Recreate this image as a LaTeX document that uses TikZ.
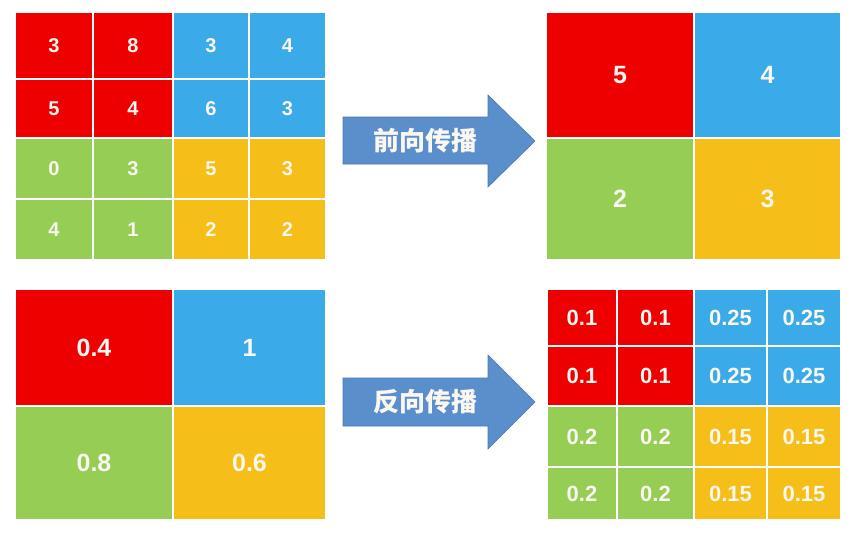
\documentclass[tikz,border=0pt]{standalone}
\usepackage{fontspec}
\setmainfont{Liberation Sans}
\newfontfamily\cjk{Noto Sans CJK SC}
\definecolor{cred}{HTML}{EE0000}
\definecolor{cblue}{HTML}{3AAAE8}
\definecolor{cgreen}{HTML}{96CD55}
\definecolor{cyellow}{HTML}{F5BE18}
\definecolor{carrow}{HTML}{5B8FCC}
\definecolor{carrowline}{HTML}{4A78B0}
\definecolor{ctext}{HTML}{FAF6F0}
% name, x1, y1, x2, y2, colour, text, size
\newcommand\mkcell[8]{\node[cell,fill=#6,font=\bfseries\fontsize{#8}{#8}\selectfont,
  minimum width={(#4-#2)*1pt},minimum height={(#5-#3)*1pt}] (#1) at ({(#2+#4)/2},{(#3+#5)/2}) {#7};}
% name, left x, tip x, head x, body top, body bottom, head top, head bottom, text
\newcommand\mkarrow[9]{%
  \draw[bigarrow] (#2,#5) -- (#4,#5) -- (#4,#7) -- (#3,{(#7+#8)/2}) -- (#4,#8) -- (#4,#6) -- (#2,#6) -- cycle;
  \node[arrowtext] (#1) at ({(#2+#4)/2+10},{(#5+#6)/2}) {#9};}
\begin{document}
\begin{tikzpicture}[x=1pt,y=-1pt,
  cell/.style={draw=white,line width=1.3pt,inner sep=0pt,text=ctext},
  bigarrow/.style={fill=carrow,draw=carrowline,line width=0.6pt,line join=miter},
  arrowtext/.style={inner sep=0pt,text=ctext,font=\cjk\bfseries\fontsize{26}{26}\selectfont}]
\useasboundingbox (0,0) rectangle (851,535);
% top-left 4x4
\mkcell{a11}{15}{12}{93}{79}{cred}{3}{20}
\mkcell{a12}{93}{12}{173}{79}{cred}{8}{20}
\mkcell{a13}{173}{12}{249}{79}{cblue}{3}{20}
\mkcell{a14}{249}{12}{326}{79}{cblue}{4}{20}
\mkcell{a21}{15}{79}{93}{138}{cred}{5}{20}
\mkcell{a22}{93}{79}{173}{138}{cred}{4}{20}
\mkcell{a23}{173}{79}{249}{138}{cblue}{6}{20}
\mkcell{a24}{249}{79}{326}{138}{cblue}{3}{20}
\mkcell{a31}{15}{138}{93}{199}{cgreen}{0}{20}
\mkcell{a32}{93}{138}{173}{199}{cgreen}{3}{20}
\mkcell{a33}{173}{138}{249}{199}{cyellow}{5}{20}
\mkcell{a34}{249}{138}{326}{199}{cyellow}{3}{20}
\mkcell{a41}{15}{199}{93}{260}{cgreen}{4}{20}
\mkcell{a42}{93}{199}{173}{260}{cgreen}{1}{20}
\mkcell{a43}{173}{199}{249}{260}{cyellow}{2}{20}
\mkcell{a44}{249}{199}{326}{260}{cyellow}{2}{20}
% top-right 2x2
\mkcell{b11}{546}{12}{694}{138}{cred}{5}{25}
\mkcell{b12}{694}{12}{841}{138}{cblue}{4}{25}
\mkcell{b21}{546}{138}{694}{260}{cgreen}{2}{25}
\mkcell{b22}{694}{138}{841}{260}{cyellow}{3}{25}
% bottom-left 2x2
\mkcell{c11}{15}{289}{173}{406}{cred}{0.4}{25}
\mkcell{c12}{173}{289}{326}{406}{cblue}{1}{25}
\mkcell{c21}{15}{406}{173}{520}{cgreen}{0.8}{25}
\mkcell{c22}{173}{406}{326}{520}{cyellow}{0.6}{25}
% bottom-right 4x4
\mkcell{d11}{547}{289}{617}{346}{cred}{0.1}{22}
\mkcell{d12}{617}{289}{694}{346}{cred}{0.1}{22}
\mkcell{d13}{694}{289}{767}{346}{cblue}{0.25}{22}
\mkcell{d14}{767}{289}{841}{346}{cblue}{0.25}{22}
\mkcell{d21}{547}{346}{617}{406}{cred}{0.1}{22}
\mkcell{d22}{617}{346}{694}{406}{cred}{0.1}{22}
\mkcell{d23}{694}{346}{767}{406}{cblue}{0.25}{22}
\mkcell{d24}{767}{346}{841}{406}{cblue}{0.25}{22}
\mkcell{d31}{547}{406}{617}{467}{cgreen}{0.2}{22}
\mkcell{d32}{617}{406}{694}{467}{cgreen}{0.2}{22}
\mkcell{d33}{694}{406}{767}{467}{cyellow}{0.15}{22}
\mkcell{d34}{767}{406}{841}{467}{cyellow}{0.15}{22}
\mkcell{d41}{547}{467}{617}{520}{cgreen}{0.2}{22}
\mkcell{d42}{617}{467}{694}{520}{cgreen}{0.2}{22}
\mkcell{d43}{694}{467}{767}{520}{cyellow}{0.15}{22}
\mkcell{d44}{767}{467}{841}{520}{cyellow}{0.15}{22}
% arrows
\mkarrow{fwd}{343}{535}{488}{117}{164}{95}{187}{前向传播}
\mkarrow{bwd}{343}{535}{488}{378}{426}{355}{449}{反向传播}
\end{tikzpicture}
\end{document}
